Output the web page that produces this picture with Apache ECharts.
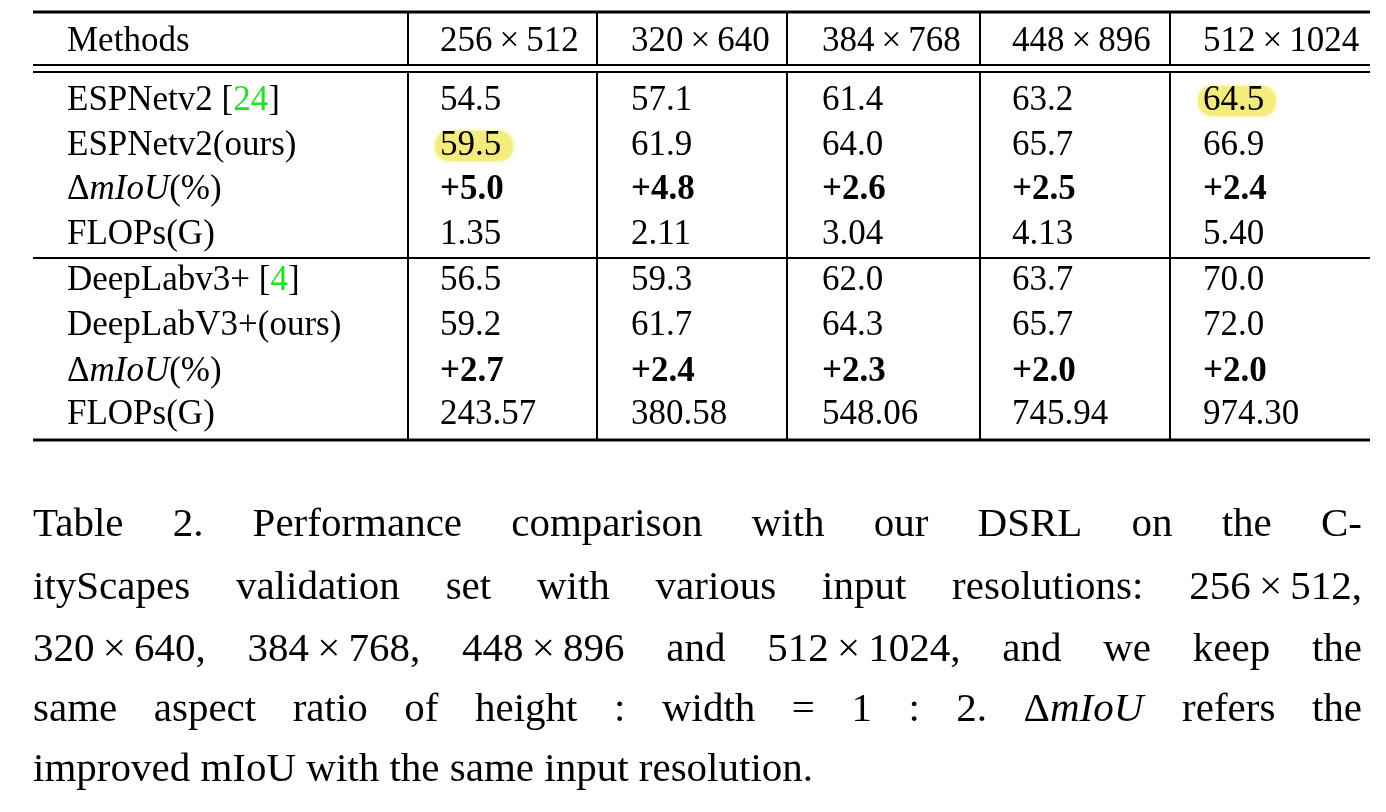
<!DOCTYPE html>
<html><head><meta charset="utf-8">
<script src="https://cdn.jsdelivr.net/npm/echarts@6/dist/echarts.min.js"></script>
<style>html,body{margin:0;background:#fff}#c{width:1386px;height:812px}</style></head>
<body><div id="c"></div>
<script>
const headers = ['Methods','256\u2009×\u2009512','320\u2009×\u2009640','384\u2009×\u2009768','448\u2009×\u2009896','512\u2009×\u20091024'];
const methods = ['ESPNetv2 [24]','ESPNetv2(ours)','ΔmIoU(%)','FLOPs(G)','DeepLabv3+ [4]','DeepLabV3+(ours)','ΔmIoU(%)','FLOPs(G)'];
const espBase = ['54.5','57.1','61.4','63.2','64.5'];
const espOurs = ['59.5','61.9','64.0','65.7','66.9'];
const espDelta = ['+5.0','+4.8','+2.6','+2.5','+2.4'];
const espFlops = ['1.35','2.11','3.04','4.13','5.40'];
const dlBase = ['56.5','59.3','62.0','63.7','70.0'];
const dlOurs = ['59.2','61.7','64.3','65.7','72.0'];
const dlDelta = ['+2.7','+2.4','+2.3','+2.0','+2.0'];
const dlFlops = ['243.57','380.58','548.06','745.94','974.30'];
const highlighted = [[1,5],[2,1]];
const boldRows = [3,7];
const captionLines = [
 'Table 2. Performance comparison with our DSRL on the C-',
 'ityScapes validation set with various input resolutions: 256\u2009×\u2009512,',
 '320\u2009×\u2009640, 384\u2009×\u2009768, 448\u2009×\u2009896 and 512\u2009×\u20091024, and we keep the',
 'same aspect ratio of height : width = 1 : 2. ΔmIoU refers the',
 'improved mIoU with the same input resolution.'
];

// layout
const colX = [67,440,631,822,1012,1203];
const vLines = [408,597,787,980,1170];
const rowY = [42,101,146,190,235,281,326,372,415];
const L=33,R=1362;
const FONT='"Liberation Serif","DejaVu Serif",serif';
const rows=[espBase,espOurs,espDelta,espFlops,dlBase,dlOurs,dlDelta,dlFlops];
const cells=[];
headers.forEach((h,c)=>cells.push([0,c,h]));
methods.forEach((m,r)=>{cells.push([r+1,0,m]); rows[r].forEach((v,c)=>cells.push([r+1,c+1,v]));});

const FS=35;
function methodRich(t){
  if(t.startsWith('Δ')) return '{n|Δ}{i|mIoU}{n|(%)}';
  const m=t.match(/^(.*\[)(\d+)(\])$/);
  if(m) return '{n|'+m[1]+'}{g|'+m[2]+'}{n|'+m[3]+'}';
  return '{n|'+t+'}';
}
const rich={n:{fontFamily:FONT,fontSize:FS,fill:'#000'},i:{fontFamily:FONT,fontSize:FS,fontStyle:'italic',fill:'#000'},g:{fontFamily:FONT,fontSize:FS,fill:'#22e022',color:'#22e022'}};

const chart=echarts.init(document.getElementById('c'));
const mc=document.createElement('canvas').getContext('2d');
const CFS=41;
mc.font=CFS+'px "Liberation Serif"';
const capY=[525,588,650,710,770];
const maxW=R-L;

const graphics=[];
[[12,3],[65,2],[72,2],[258,2],[440,3]].forEach(([y,w])=>graphics.push({type:'line',shape:{x1:L,y1:y,x2:1370,y2:y},style:{stroke:'#000',lineWidth:w}}));
vLines.forEach(x=>{graphics.push({type:'line',shape:{x1:x,y1:12,x2:x,y2:65},style:{stroke:'#000',lineWidth:2}});graphics.push({type:'line',shape:{x1:x,y1:72,x2:x,y2:440},style:{stroke:'#000',lineWidth:2}});});
captionLines.forEach((line,i)=>{
  const ln=line.split(' ');
  const last=i===captionLines.length-1;
  const ww=ln.map(w=>mc.measureText(w).width);
  const total=ww.reduce((a,b)=>a+b,0);
  const gap=last?mc.measureText(' ').width:(maxW-total)/(ln.length-1);
  let x=L;
  ln.forEach((w,j)=>{
    const txt=w.includes('ΔmIoU')?'{n|Δ}{i|mIoU}':'{n|'+w+'}';
    graphics.push({type:'text',x:x,y:capY[i],style:{text:txt,rich:{n:{fontFamily:FONT,fontSize:CFS,fill:'#000'},i:{fontFamily:FONT,fontSize:CFS,fontStyle:'italic',fill:'#000'}},verticalAlign:'middle',fill:'#000'}});
    x+=ww[j]+gap;
  });
});

chart.setOption({
  animation:false,
  grid:{left:0,right:0,top:0,bottom:0},
  xAxis:{type:'value',min:0,max:1386,show:false},
  yAxis:{type:'value',min:0,max:812,inverse:true,show:false},
  series:[{type:'custom',data:cells,renderItem:(p,api)=>{
    const r=api.value(0),c=api.value(1),t=cells[p.dataIndex][2];
    const pt=api.coord([colX[c],rowY[r]]);
    const children=[];
    if(highlighted.some(h=>h[0]===r&&h[1]===c)){
      children.push({type:'rect',shape:{x:pt[0]-5,y:pt[1]-15,width:78,height:30,r:14},style:{fill:'#f3ec7a',opacity:0.85,shadowBlur:5,shadowColor:'#f3ec7a'}});
    }
    const bold=boldRows.includes(r)&&c>0;
    children.push({type:'text',x:pt[0],y:pt[1],style:c===0?{text:methodRich(t),rich:rich,verticalAlign:'middle'}:{text:t,fontFamily:FONT,fontSize:FS,fontWeight:bold?'bold':'normal',fill:'#000',verticalAlign:'middle'}});
    return {type:'group',children};
  }}],
  graphic:graphics
});
</script></body></html>
